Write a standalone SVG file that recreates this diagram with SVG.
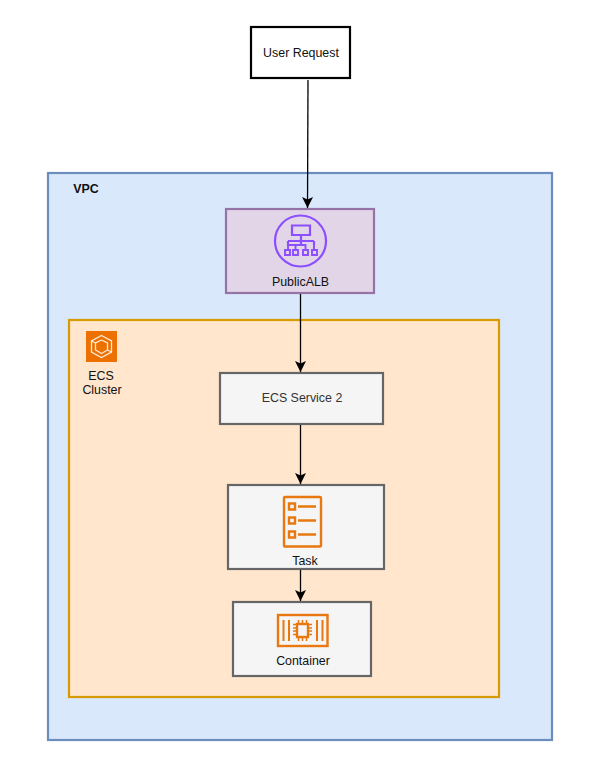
<svg xmlns="http://www.w3.org/2000/svg" width="610" height="777" viewBox="0 0 610 777">
<style>
text{font-family:"Liberation Sans",Arial,sans-serif;font-size:12.4px;fill:#111;text-anchor:middle}
.box{fill:#f5f5f5;stroke:#666;stroke-width:2.200}
.ln{fill:none;stroke:#000;stroke-width:1.300;marker-end:url(#arr)}
.or{fill:none;stroke:#e8780f;stroke-width:2.400}
.pu{fill:none;stroke:#8c4fff;stroke-width:2.200}
.wh{fill:none;stroke:#fff;stroke-width:1.300;opacity:.85}
</style>
<defs><marker id="arr" markerUnits="userSpaceOnUse" markerWidth="14" markerHeight="14" refX="11" refY="6" orient="auto"><path d="M0 0.500L11 6L0 11.500L2.500 6Z" fill="#000"/></marker></defs>
<rect width="610" height="777" fill="#fff"/>
<g id="vpc"><rect x="48" y="173" width="504" height="567" fill="#dae8fc" stroke="#6c8ebf" stroke-width="2.200"/><text x="86" y="193" style="font-weight:bold">VPC</text></g>
<g id="ecs-cluster"><rect x="69" y="320" width="430" height="377" fill="#ffe6cc" stroke="#d79b00" stroke-width="2.200"/>
<rect x="86" y="331" width="31" height="31" fill="#ed7100"/>
<path class="wh" d="M101.500 335.500L111.500 341V352L101.500 357.500L91.500 352V341Z"/><path class="wh" d="M101.500 340L107.500 343V350L101.500 353.500L95.500 350V343L101.500 340M107.500 350L111.500 352M95.500 343L91.500 341"/>
<text x="101" y="380">ECS</text><text x="102" y="394">Cluster</text></g>
<g id="user-request"><rect x="251" y="27" width="99" height="51" fill="#fff" stroke="#000" stroke-width="2.200"/><text x="301" y="57">User Request</text></g>
<g id="public-alb"><rect x="226" y="209" width="148" height="84" fill="#e1d5e7" stroke="#9673a6" stroke-width="2.200"/>
<circle cx="300.500" cy="241" r="25.500" class="pu"/>
<path class="pu" d="M292 225.500H310V235H292ZM301 235V241M288 241H314M288 241V245M314 241V245M301 241V245"/>
<path class="pu" d="M285 250h5v5h-5ZM293 250h5v5h-5ZM303 250h5v5h-5ZM312 250h5v5h-5ZM288 245H295.500V250M288 245V250M301 245H305.500V250M301 245H295.500M314 245V250" style="stroke-width:1.900"/>
<text x="300.500" y="286">PublicALB</text></g>
<g id="ecs-service"><rect x="220" y="373" width="163" height="51" class="box"/><text x="302" y="402" style="fill:#333">ECS Service 2</text></g>
<g id="task"><rect x="228" y="485" width="156" height="84" class="box"/>
<rect x="284" y="497" width="37" height="49.500" rx="1" class="or"/>
<path class="or" d="M289 503.500h6v6h-6ZM289 517.500h6v6h-6ZM289 531.500h6v6h-6ZM298 506.500h18M298 520.500h18M298 534.500h18"/>
<text x="305" y="565">Task</text></g>
<g id="container"><rect x="233" y="602" width="138" height="74" class="box"/>
<rect x="278" y="615" width="49.500" height="31" class="or"/>
<path class="or" d="M283.500 620v21M289 620v21M317 620v21M322.500 620v21" style="stroke-width:2"/>
<rect x="297" y="624" width="11" height="13" class="or"/>
<path class="or" d="M294 624.500h-1M294 628h-1M294 631h-1M294 634.500h-1M308 624.500h4M308 628h4M308 631h4M308 634.500h4M293 624.500h4M293 628h4M293 631h4M293 634.500h4M298.500 620v4M302.500 620v4M306.500 620v4M298.500 637v4M302.500 637v4M306.500 637v4" style="stroke-width:1.500"/>
<text x="303" y="665">Container</text></g>
<g id="connectors">
<path class="ln" d="M308 80L307.500 208"/>
<path class="ln" d="M300.500 294V372"/>
<path class="ln" d="M300.500 425V484"/>
<path class="ln" d="M300.500 570V601"/>
</g>
</svg>
